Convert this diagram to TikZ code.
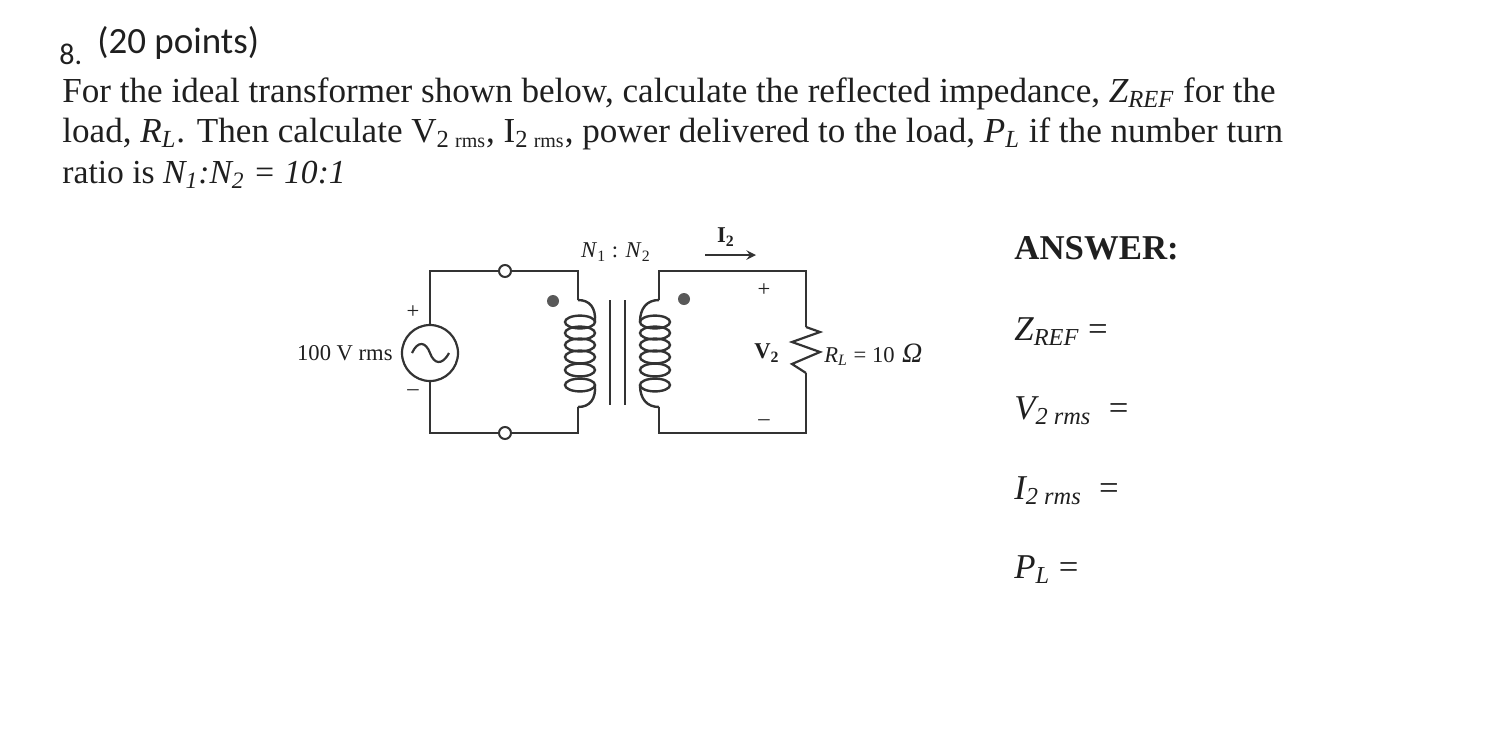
\documentclass[tikz,border=0pt]{standalone}
\usepackage{fontspec}
\setmainfont{Liberation Serif}
\newfontfamily\headfont{Carlito}
\newcommand{\rmssub}{\textsubscript{2 \fontsize{10}{10}\selectfont rms}}
\begin{document}
\begin{tikzpicture}[
  x=0.5pt, y=-0.5pt,
  ink/.style={text=black!88},
  body_text/.style={ink, anchor=base west, inner sep=0pt, font=\fontsize{17.55}{20}\selectfont},
  short_text/.style={ink, anchor=base west, inner sep=0pt, font=\fontsize{16.8}{20}\selectfont},
  head_text/.style={ink, anchor=base west, inner sep=0pt, font=\headfont\fontsize{18.5}{20}\selectfont},
  num_text/.style={ink, anchor=base west, inner sep=0pt, font=\headfont\fontsize{15}{20}\selectfont},
  answer_text/.style={ink, anchor=base west, inner sep=0pt, font=\fontsize{17.4}{20}\selectfont},
  small_text/.style={ink, inner sep=0pt, font=\fontsize{11.3}{13}\selectfont},
  wire/.style={draw=black!80, line width=1.1pt},
  coil_wire/.style={draw=black!80, line width=1.2pt},
  terminal/.style={circle, draw=black!80, fill=white, line width=1pt, minimum size=6pt, inner sep=0pt},
  source/.style={circle, draw=black!80, line width=1.1pt, minimum size=28pt, inner sep=0pt},
  dot_mark/.style={circle, fill=black!65, minimum size=6pt, inner sep=0pt},
]
\useasboundingbox (0,0) rectangle (1490,730);

\draw (59,64) node (num) [num_text] {8.};
\draw (97,53) node (pts) [head_text] {(20 points)};
\draw (62,102) node (line_a) [body_text] {For the ideal transformer shown below, calculate the reflected impedance, \textit{Z\textsubscript{REF}} for the};
\draw (62,142) node (line_b) [body_text] {load, \textit{R\textsubscript{L}}. Then calculate V\rmssub, I\rmssub, power delivered to the load, \textit{P\textsubscript{L}} if the number turn};
\draw (62,183) node (line_c) [short_text] {ratio is \textit{N\textsubscript{1}:N\textsubscript{2} = 10:1}};

\draw (1014,259) node (ans) [answer_text] {\textbf{ANSWER:}};
\draw (1014,340) node (ans_z) [answer_text] {\textit{Z\textsubscript{REF}} =};
\draw (1014,419) node (ans_v) [answer_text] {\textit{V\textsubscript{2 rms}}\ \ =};
\draw (1014,499) node (ans_i) [answer_text] {\textit{I\textsubscript{2 rms}}\ \ =};
\draw (1014,578) node (ans_p) [answer_text] {\textit{P\textsubscript{L}} =};

\node (src) [source] at (430,353) {};
\node (term_top) [terminal] at (505,271) {};
\node (term_bot) [terminal] at (505,433) {};
\coordinate (pri_a) at (578,271);
\coordinate (pri_b) at (578,300);
\coordinate (pri_c) at (578,407);
\coordinate (pri_d) at (578,433);
\coordinate (sec_a) at (659,271);
\coordinate (sec_b) at (659,300);
\coordinate (sec_c) at (659,407);
\coordinate (sec_d) at (659,433);
\coordinate (load_top) at (806,327);
\coordinate (load_bot) at (806,373);
\coordinate (load_a) at (806,271);
\coordinate (load_b) at (806,433);

\draw [wire] (src.north) |- (term_top);
\draw [wire] (term_top) -- (pri_a) -- (pri_b);
\draw [wire] (src.south) |- (term_bot);
\draw [wire] (term_bot) -- (pri_d) -- (pri_c);
\draw [wire] (sec_b) -- (sec_a) -- (load_a) -- (load_top);
\draw [wire] (sec_c) -- (sec_d) -- (load_b) -- (load_bot);

\draw [wire] (load_top) -- (820,332) -- (792,342) -- (820,352) -- (792,364) -- (load_bot);

\draw [wire] (412,353) .. controls (418,340) and (426,342) .. (430,353) .. controls (434,364) and (442,366) .. (449,353);

\foreach \y in {322,333,345,357,370,385} {
  \draw [coil_wire] (580,\y) ellipse [x radius=7.5pt, y radius=3.2pt];
  \draw [coil_wire] (655,\y) ellipse [x radius=7.5pt, y radius=3.2pt];
}
\draw [coil_wire] (pri_b) .. controls (590,300) and (596,308) .. (595,322);
\draw [coil_wire] (pri_c) .. controls (590,407) and (596,399) .. (595,385);
\draw [coil_wire] (sec_b) .. controls (647,300) and (640,308) .. (640,322);
\draw [coil_wire] (sec_c) .. controls (647,407) and (640,399) .. (640,385);

\coordinate (core_a1) at (610,300);
\coordinate (core_a2) at (610,405);
\coordinate (core_b1) at (625,300);
\coordinate (core_b2) at (625,405);
\draw [wire] (core_a1) -- (core_a2);
\draw [wire] (core_b1) -- (core_b2);

\node (dot_pri) [dot_mark] at (553,301) {};
\node (dot_sec) [dot_mark] at (684,299) {};

\draw (393,353) node (src_lbl) [small_text, left] {100 V rms};
\draw (413,312) node (src_plus) [small_text] {+};
\draw (413,393) node (src_minus) [small_text] {--};
\draw (616,252) node (ratio) [small_text] {\textit{N}\textsubscript{1} : \textit{N}\textsubscript{2}};
\draw (726,237) node (cur) [small_text] {\textbf{I\textsubscript{2}}};
\coordinate (cur_a) at (705,255);
\coordinate (cur_b) at (756,255);
\draw [wire, -stealth] (cur_a) -- (cur_b);
\draw (764,290) node (v_plus) [small_text] {+};
\draw (764,423) node (v_minus) [small_text] {--};
\draw (767,353) node (v_lbl) [small_text] {\textbf{V\textsubscript{2}}};
\draw (824,355) node (r_lbl) [small_text, right] {\textit{R\textsubscript{L}} = 10\,\,{\fontsize{14}{14}\selectfont\textit{Ω}}};
\end{tikzpicture}
\end{document}
